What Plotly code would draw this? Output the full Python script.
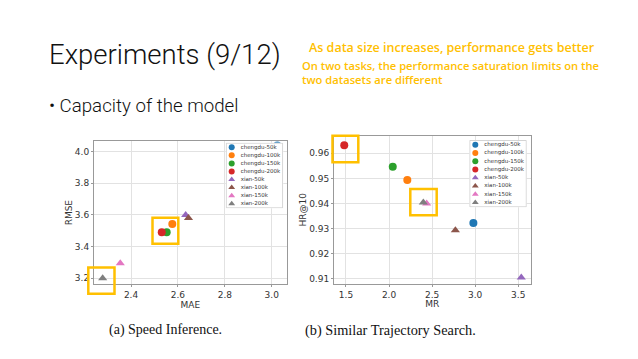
import plotly.graph_objects as go

# ---------------- data ----------------
series = ['chengdu-50k', 'chengdu-100k', 'chengdu-150k', 'chengdu-200k',
          'xian-50k', 'xian-100k', 'xian-150k', 'xian-200k']
colors = ['#1f77b4', '#ff7f0e', '#2ca02c', '#d62728',
          '#9467bd', '#8c564b', '#e377c2', '#7f7f7f']
symbols = ['circle'] * 4 + ['triangle-up'] * 4

mae = [3.024, 2.576, 2.552, 2.531, 2.633, 2.645, 2.354, 2.279]
rmse = [4.038, 3.543, 3.490, 3.490, 3.600, 3.580, 3.295, 3.200]
mr = [2.979, 2.212, 2.043, 1.480, 3.535, 2.770, 2.437, 2.398]
hr10 = [0.9322, 0.9494, 0.9546, 0.9632, 0.9105, 0.9293, 0.9400, 0.9404]

left_xticks = [2.4, 2.6, 2.8, 3.0]
left_yticks = [3.2, 3.4, 3.6, 3.8, 4.0]
right_xticks = [1.5, 2.0, 2.5, 3.0, 3.5]
right_yticks = [0.91, 0.92, 0.93, 0.94, 0.95, 0.96]

W, H = 638, 359
OFF = 8  # page body margin compensation
def px(x): return (x - OFF) / W
def py(y): return 1 - (y - OFF) / H

fig = go.Figure()

# main scatter points
for i, name in enumerate(series):
    fig.add_trace(go.Scatter(x=[mae[i]], y=[rmse[i]], mode='markers', name=name,
                             marker=dict(color=colors[i], symbol=symbols[i], size=8),
                             xaxis='x', yaxis='y', showlegend=False, cliponaxis=False))
for i, name in enumerate(series):
    fig.add_trace(go.Scatter(x=[mr[i]], y=[hr10[i]], mode='markers', name=name,
                             marker=dict(color=colors[i], symbol=symbols[i], size=8),
                             xaxis='x2', yaxis='y2', showlegend=False, cliponaxis=False))

# matplotlib-like legends drawn in small overlay axes
for xa, ya in [('x3', 'y3'), ('x4', 'y4')]:
    fig.add_trace(go.Scatter(x=[-5.5, 51, 51, -5.5, -5.5], y=[-0.52, -0.52, 7.52, 7.52, -0.52],
                             mode='lines', fill='toself', fillcolor='rgba(255,255,255,0.8)',
                             line=dict(color='#d0d0d0', width=1), hoverinfo='skip',
                             xaxis=xa, yaxis=ya, showlegend=False))
    fig.add_trace(go.Scatter(x=[0] * len(series), y=list(range(len(series))), mode='markers',
                             marker=dict(color=colors, symbol=symbols, size=6),
                             xaxis=xa, yaxis=ya, showlegend=False, hoverinfo='skip'))
    fig.add_trace(go.Scatter(x=[9] * len(series), y=list(range(len(series))), mode='text',
                             text=series, textposition='middle right',
                             textfont=dict(family='DejaVu Sans', size=5.5, color='#333'),
                             xaxis=xa, yaxis=ya, showlegend=False, hoverinfo='skip'))

tickfont = dict(family='DejaVu Sans', size=9, color='#333')
titlefont = dict(family='DejaVu Sans', size=9, color='#333')
axis_common = dict(showgrid=True, gridcolor='#e2e2e2', gridwidth=1, zeroline=False,
                   showline=True, linecolor='#999', linewidth=1, mirror=True,
                   ticks='outside', ticklen=2, tickcolor='#999', tickfont=tickfont)

fig.update_layout(
    width=W, height=H, margin=dict(l=0, r=0, t=0, b=0),
    paper_bgcolor='white', plot_bgcolor='white', showlegend=False,
    xaxis=dict(domain=[px(94), px(286.7)], range=[2.242, 3.064], tickvals=left_xticks,
               tickformat='.1f', anchor='y', title=dict(text='MAE', font=titlefont, standoff=0),
               **axis_common),
    yaxis=dict(domain=[py(284.3), py(141)], range=[3.162, 4.067], tickvals=left_yticks,
               tickformat='.1f', anchor='x', title=dict(text='RMSE', font=titlefont, standoff=0),
               **axis_common),
    xaxis2=dict(domain=[px(334), px(530.5)], range=[1.361, 3.642], tickvals=right_xticks,
                tickformat='.1f', anchor='y2', title=dict(text='MR', font=titlefont, standoff=0),
                **axis_common),
    yaxis2=dict(domain=[py(283.7), py(136)], range=[0.908, 0.9669], tickvals=right_yticks,
                tickformat='.2f', anchor='x2', title=dict(text='HR@10', font=titlefont, standoff=0),
                **axis_common),
    xaxis3=dict(domain=[px(225.7), px(283.3)], range=[-6, 51.6], visible=False, anchor='y3'),
    yaxis3=dict(domain=[py(208.3), py(142.7)], range=[7.57, -0.57], visible=False, anchor='x3'),
    xaxis4=dict(domain=[px(469.3), px(526.7)], range=[-6, 51.4], visible=False, anchor='y4'),
    yaxis4=dict(domain=[py(207.3), py(140)], range=[7.57, -0.57], visible=False, anchor='x4'),
)

# highlight boxes
yellow = '#FFC000'
for (x0, y0, x1, y1) in [(152.5, 217.7, 178.3, 243.7), (88.3, 267.5, 114.5, 293.8),
                         (332.5, 135.7, 358.3, 162.3), (410.3, 189, 436.7, 215.3)]:
    fig.add_shape(type='rect', xref='paper', yref='paper', x0=px(x0), x1=px(x1),
                  y0=py(y1), y1=py(y0), line=dict(color=yellow, width=2.5), layer='above')

# slide texts
def ann(text, x, y, size, color, family, weight=400, xanchor='left'):
    fig.add_annotation(text=text, x=px(x), y=py(y), xref='paper', yref='paper',
                       xanchor=xanchor, yanchor='middle', showarrow=False,
                       font=dict(size=size, color=color, family=family, weight=weight))

ann('Experiments (9/12)', 47, 54, 27.5, '#111', 'Roboto', 300)
ann('• Capacity of the model', 47, 106, 18.7, '#111', 'Roboto', 300)
ann('As data size increases, performance gets better', 307, 47, 12.5, yellow, 'Open Sans', 600)
ann('On two tasks, the performance saturation limits on the', 300, 65, 11.2, yellow, 'Open Sans', 600)
ann('two datasets are different', 300, 80, 11.2, yellow, 'Open Sans', 600)
ann('(a) Speed Inference.', 107, 330, 14, '#111', 'Liberation Serif')
ann('(b) Similar Trajectory Search.', 303, 330, 14.3, '#111', 'Liberation Serif')

fig.write_html('out.html')
